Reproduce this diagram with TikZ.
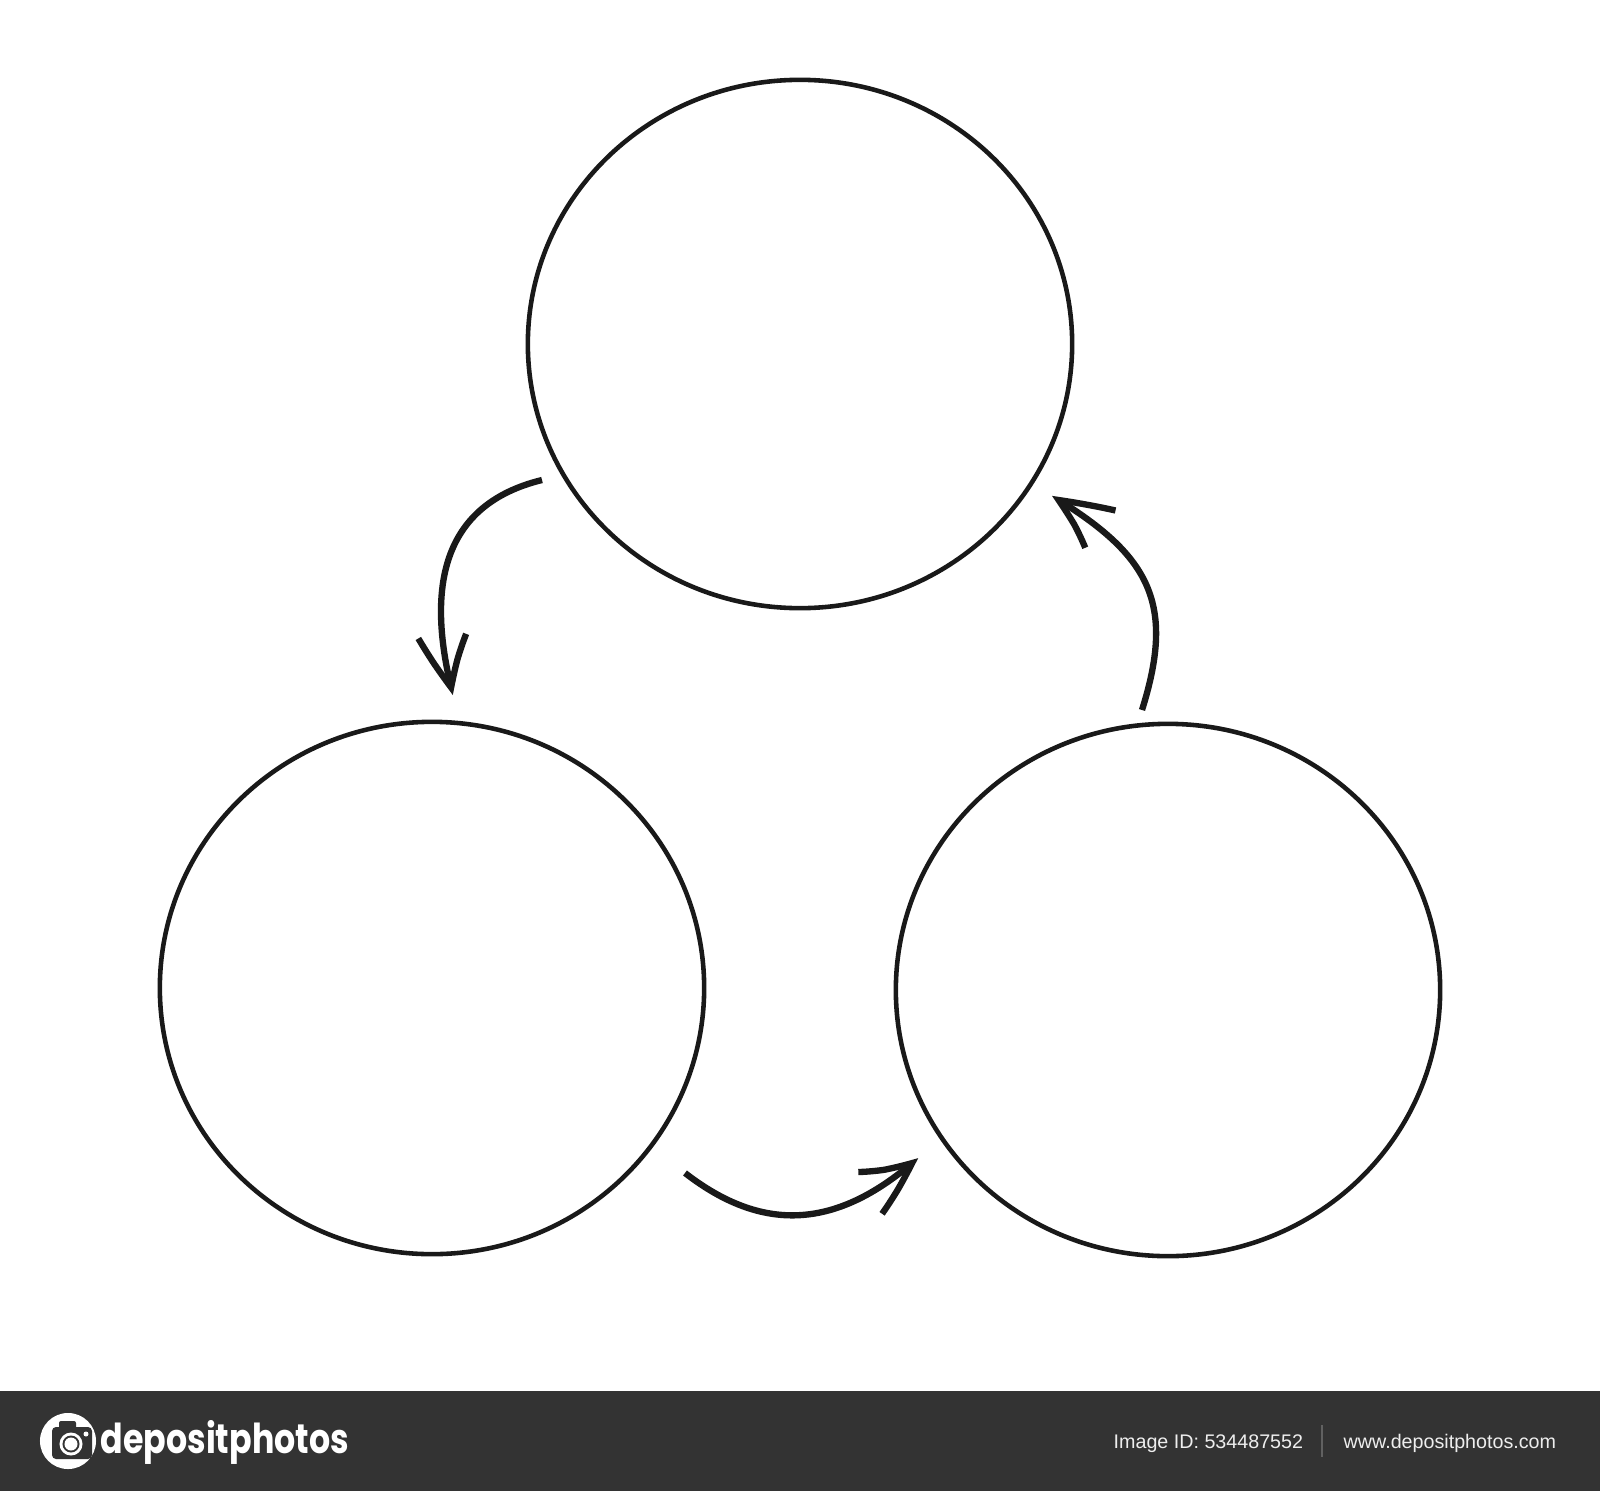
\documentclass[tikz,border=0pt]{standalone}
\usepackage{fontspec}
\setmainfont{Liberation Sans}
\newfontfamily\logofont{Poppins}
\usetikzlibrary{shapes.geometric, arrows.meta, bending}
\definecolor{barcol}{HTML}{333333}
\definecolor{bartext}{HTML}{EEEEEE}

\begin{document}
\begin{tikzpicture}[x=0.01cm, y=-0.01cm,
        ring/.style={shape=ellipse, draw=black!90, line width=1.3pt, inner sep=0pt, minimum width=5.44cm},
        turn/.style={draw=black!90, line width=1.8pt, -{Straight Barb[length=5.4mm, width=4.8mm, bend]}}]
        \useasboundingbox (0,0) rectangle (1600,1491);

        \node[ring, minimum height=5.28cm] (T) at (800,344) {};
        \node[ring, minimum height=5.32cm] (L) at (432,988) {};
        \node[ring, minimum height=5.32cm] (R) at (1168,990) {};

        \coordinate (t1) at (542,480);
        \coordinate (l1) at (453,695);
        \coordinate (l2) at (685,1173);
        \coordinate (r1) at (918,1158);
        \coordinate (r2) at (1142,710);
        \coordinate (t2) at (1052,496);

        \draw[turn] (t1) .. controls (440,505) and (426,590) .. (l1);
        \draw[turn] (l2) .. controls (765,1235) and (839,1228) .. (r1);
        \draw[turn] (r2) .. controls (1175,605) and (1152,556) .. (t2);

        % footer bar
        \fill[barcol] (0,1391) rectangle (1600,1491);
        \fill[white] (68,1441) circle [radius=0.28cm];
        \fill[barcol, rounded corners=0.04cm] (52,1427) rectangle (92,1459);
        \fill[barcol, rounded corners=0.02cm] (59,1421) rectangle (76,1430);
        \fill[white] (71,1444) circle [radius=0.115cm];
        \fill[barcol] (71,1444) circle [radius=0.085cm];
        \fill[white] (71,1444) circle [radius=0.065cm];
        \fill[white] (86,1434) circle [radius=0.025cm];
        \node[anchor=base west, text=white, inner sep=0pt] (brand) at (100,1453)
            {\resizebox{2.48cm}{0.33cm}{\logofont\bfseries depositphotos}};

        \node[anchor=base west, text=bartext, inner sep=0pt, font=\fontsize{5.6pt}{6pt}\selectfont] (imgid) at (1113,1448) {Image ID: 534487552};
        \draw[gray!60!barcol, line width=0.3pt] (1322,1425) -- (1322,1457);
        \node[anchor=base west, text=bartext, inner sep=0pt, font=\fontsize{5.6pt}{6pt}\selectfont] (site) at (1343,1448) {www.depositphotos.com};
    \end{tikzpicture}
\end{document}
